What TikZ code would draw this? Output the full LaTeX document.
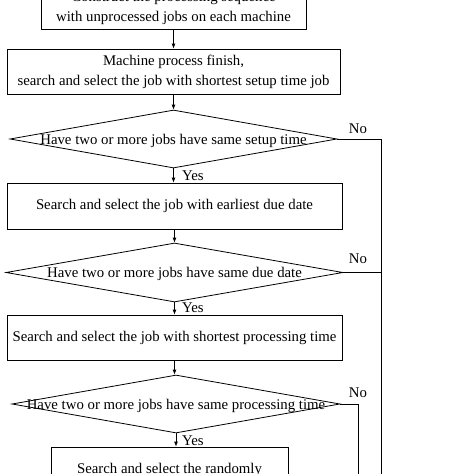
\documentclass[tikz,border=0pt]{standalone}
\usepackage{fontspec}
\setmainfont{Liberation Serif}
\usetikzlibrary{shapes.geometric,arrows.meta}
\begin{document}
\begin{tikzpicture}[x=1pt,y=-1pt,
  txt/.style={font=\fontsize{14.8}{20}\selectfont, align=center, inner sep=0pt},
  box/.style={txt, draw, line width=0.8pt, rectangle},
  dec/.style={draw, diamond, line width=0.8pt, inner sep=0pt},
  lbl/.style={font=\fontsize{14.8}{16}\selectfont, inner sep=0pt},
  line/.style={line width=0.8pt},
  arr/.style={line width=0.8pt, -{Latex[length=5pt,width=4pt]}}]
\useasboundingbox (0,0) rectangle (474,474);
\clip (0,0) rectangle (474,474);
\node[box, minimum width=265pt, minimum height=48pt] (b1) at (173.5,5) {};
\node[txt] (t0) at ([yshift=-2.5pt]b1.center) {Construct the processing sequence\\with unprocessed jobs on each machine};
\node[box, minimum width=333pt, minimum height=45pt] (b2) at (173.5,71.5) {Machine process finish,\\search and select the job with shortest setup time job};
\node[dec, minimum width=327pt, minimum height=58pt] (d1) at (173.5,139) {};
\node[txt] (t1) at ([yshift=-1.5pt]d1.center) {Have two or more jobs have same setup time};
\node[box, minimum width=335pt, minimum height=46pt] (b3) at (174.5,206) {Search and select the job with earliest due date};
\node[dec, minimum width=337pt, minimum height=59pt] (d2) at (174.5,272.5) {};
\node[txt] (t2) at ([yshift=-1.5pt]d2.center) {Have two or more jobs have same due date};
\node[box, minimum width=335pt, minimum height=45pt] (b4) at (174.5,337.5) {Search and select the job with shortest processing time};
\node[dec, minimum width=328pt, minimum height=58pt] (d3) at (176,404) {};
\node[txt] (t3) at ([yshift=-1.5pt]d3.center) {Have two or more jobs have same processing time};
\node[box, minimum width=237pt, minimum height=45pt] (b5) at (169.5,469.5) {Search and select the randomly};
\coordinate (n1) at (381,139);
\coordinate (nb1) at (381,480);
\coordinate (n3) at (358,404);
\coordinate (nb3) at (358,480);
\draw[arr] (b1.south) -- (b2.north);
\draw[arr] (b2.south) -- (d1.north);
\draw[arr] (d1.south) -- (d1.south |- b3.north);
\draw[arr] (b3.south) -- (d2.north);
\draw[arr] (d2.south) -- (d2.south |- b4.north);
\draw[arr] (b4.south) -- (b4.south |- d3.north);
\draw[arr] (d3.south) -- (d3.south |- b5.north);
\draw[line] (d1.east) -- (n1) -- (nb1);
\draw[line] (d2.east) -- (d2.east -| n1);
\draw[line] (d3.east) -- (n3) -- (nb3);
\node[lbl] (no1) at (358,129) {No};
\node[lbl] (no2) at (358,259) {No};
\node[lbl] (no3) at (358,393) {No};
\node[lbl, anchor=west] (y1) at (182,176) {Yes};
\node[lbl, anchor=west] (y2) at (182,308) {Yes};
\node[lbl, anchor=west] (y3) at (182,441) {Yes};
\end{tikzpicture}
\end{document}
